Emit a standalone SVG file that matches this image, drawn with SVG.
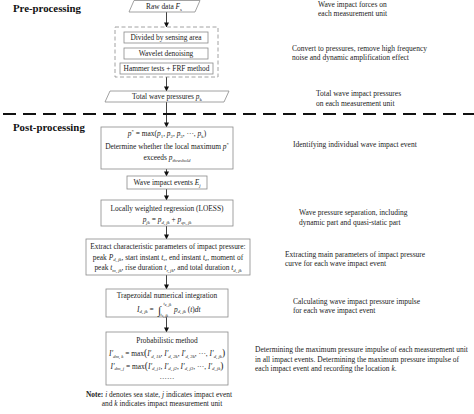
<svg xmlns="http://www.w3.org/2000/svg" width="474" height="414" viewBox="0 0 474 414">
<style>
.t{font-family:"Liberation Serif","Times New Roman",serif;font-size:7.4px;fill:#222;text-anchor:middle}
.l{font-family:"Liberation Serif","Times New Roman",serif;font-size:7.4px;fill:#222}
.r{font-family:"Liberation Serif","Times New Roman",serif;font-size:7.5px;fill:#222}
.h{font-family:"Liberation Serif","Times New Roman",serif;font-size:10.8px;font-weight:bold;fill:#111}
.box{fill:#fff;stroke:#8a8a8a;stroke-width:0.8}
.i{font-style:italic}
.s{font-size:4.8px}
.c{stroke:#111;stroke-width:0.8;fill:none;marker-end:url(#a)}
</style>
<defs>
<marker id="a" viewBox="0 0 6 6" refX="5.5" refY="3" markerWidth="5" markerHeight="5" orient="auto" markerUnits="userSpaceOnUse">
<path d="M0,0 L6,3 L0,6 z" fill="#111"/>
</marker>
</defs>
<rect width="474" height="414" fill="#fff"/>

<g id="headings">
<text class="h" x="13" y="12">Pre-processing</text>
<text class="h" x="13" y="131">Post-processing</text>
<line x1="3" y1="114" x2="474" y2="114" stroke="#111" stroke-width="2" stroke-dasharray="13 7"/>
</g>

<g id="connectors">
<line class="c" x1="166.5" y1="12" x2="166.5" y2="27"/>
<line class="c" x1="166.5" y1="77" x2="166.5" y2="91"/>
<line class="c" x1="166.5" y1="102" x2="166.5" y2="127"/>
<line class="c" x1="166.5" y1="169" x2="166.5" y2="176"/>
<line class="c" x1="166.5" y1="189" x2="166.5" y2="200"/>
<line class="c" x1="166.5" y1="226" x2="166.5" y2="239"/>
<line class="c" x1="166.5" y1="275" x2="166.5" y2="289"/>
<line class="c" x1="166.5" y1="317" x2="166.5" y2="332"/>
</g>

<g id="raw-data">
<polygon class="box" points="134,0.5 200,0.5 195,12 129,12"/>
<text class="t" x="164" y="9">Raw data  <tspan class="i">F</tspan><tspan class="s" dy="1.5">s</tspan></text>
</g>

<g id="preprocess">
<rect x="115" y="27" width="103" height="50" fill="none" stroke="#8a8a8a" stroke-width="0.8" stroke-dasharray="4 2.5"/>
<rect class="box" x="124" y="32" width="84" height="11"/>
<text class="t" x="166" y="40.3">Divided by sensing area</text>
<rect class="box" x="124" y="48" width="84" height="11"/>
<text class="t" x="166" y="56.3">Wavelet denoising</text>
<rect class="box" x="120" y="63" width="93" height="11"/>
<text class="t" x="166.5" y="71.3">Hammer tests + FRF method</text>
</g>

<g id="total-pressures">
<polygon class="box" points="110,91 229,91 224,102 105,102"/>
<text class="t" x="167" y="99">Total wave pressures  <tspan class="i">p</tspan><tspan class="s" dy="1.5">k</tspan></text>
</g>

<g id="event-detect">
<rect class="box" x="101" y="127" width="132" height="42"/>
<text class="t" x="167" y="136"><tspan class="i">p</tspan><tspan class="s" dy="-3">*</tspan><tspan dy="3"> = max(</tspan><tspan class="i">p</tspan><tspan class="s" dy="1.5">1</tspan><tspan dy="-1.5">, </tspan><tspan class="i">p</tspan><tspan class="s" dy="1.5">2</tspan><tspan dy="-1.5">, </tspan><tspan class="i">p</tspan><tspan class="s" dy="1.5">3</tspan><tspan dy="-1.5">, ···, </tspan><tspan class="i">p</tspan><tspan class="s" dy="1.5">k</tspan><tspan dy="-1.5">)</tspan></text>
<text class="t" x="167" y="149">Determine whether the local maximum <tspan class="i">p</tspan><tspan class="s" dy="-3">*</tspan></text>
<text class="t" x="167" y="160">exceeds <tspan class="i">p</tspan><tspan class="s i" dy="1.5">threshold</tspan></text>
</g>

<g id="impact-events">
<rect class="box" x="127" y="176" width="80" height="13"/>
<text class="t" x="167" y="185">Wave impact events  <tspan class="i">E</tspan><tspan class="s i" dy="1.5">j</tspan></text>
</g>

<g id="loess">
<rect class="box" x="101" y="200" width="132" height="26"/>
<text class="t" x="167" y="210.5">Locally weighted regression (LOESS)</text>
<text class="t" x="167" y="222"><tspan class="i">p</tspan><tspan class="s i" dy="1.5">jk</tspan><tspan dy="-1.5"> = </tspan><tspan class="i">p</tspan><tspan class="s i" dy="1.5">d, jk</tspan><tspan dy="-1.5"> + </tspan><tspan class="i">p</tspan><tspan class="s i" dy="1.5">qs, jk</tspan></text>
</g>

<g id="extract">
<rect class="box" x="86" y="239" width="164" height="36"/>
<text class="t" x="168" y="249">Extract characteristic parameters of impact pressure:</text>
<text class="t" x="168" y="259.5">peak <tspan class="i">P</tspan><tspan class="s i" dy="1.5">d, jk</tspan><tspan dy="-1.5">, start instant </tspan><tspan class="i">t</tspan><tspan class="s i" dy="1.5">s</tspan><tspan dy="-1.5">, end instant </tspan><tspan class="i">t</tspan><tspan class="s i" dy="1.5">e</tspan><tspan dy="-1.5">, moment of</tspan></text>
<text class="t" x="168" y="270">peak <tspan class="i">t</tspan><tspan class="s i" dy="1.5">m, jk</tspan><tspan dy="-1.5">, rise duration </tspan><tspan class="i">t</tspan><tspan class="s i" dy="1.5">r, jk</tspan><tspan dy="-1.5">, and total duration </tspan><tspan class="i">t</tspan><tspan class="s i" dy="1.5">d, jk</tspan></text>
</g>

<g id="trapezoidal">
<rect class="box" x="106" y="289" width="122" height="28"/>
<text class="t" x="167" y="298">Trapezoidal numerical integration</text>
<text class="l" x="137" y="311.5"><tspan class="i">I</tspan><tspan class="s i" dy="1.5">d, jk</tspan><tspan dy="-1.5"> = </tspan></text>
<text class="l" x="158" y="313.5" style="font-size:11px">∫</text>
<text class="l i" x="163.5" y="304.8" style="font-size:4px">t<tspan dy="0.8">e, jk</tspan></text>
<text class="l i" x="160.5" y="316.3" style="font-size:4px">t<tspan dy="0.6">s, jk</tspan></text>
<text class="l" x="174" y="311.5"><tspan class="i">p</tspan><tspan class="s i" dy="1.5">d, jk</tspan><tspan dy="-1.5"> (</tspan><tspan class="i">t</tspan>)<tspan class="i">dt</tspan></text>
</g>

<g id="probabilistic">
<rect class="box" x="106" y="332" width="122" height="53"/>
<text class="t" x="167" y="342.5">Probabilistic method</text>
<text class="t" x="167" y="356"><tspan class="i">I′</tspan><tspan class="s i" dy="1.5">dm, k</tspan><tspan dy="-1.5"> = max</tspan><tspan font-size="9.5">(</tspan><tspan class="i">I′</tspan><tspan class="s i" dy="1.5">d, 1k</tspan><tspan dy="-1.5">, </tspan><tspan class="i">I′</tspan><tspan class="s i" dy="1.5">d, 2k</tspan><tspan dy="-1.5">, </tspan><tspan class="i">I′</tspan><tspan class="s i" dy="1.5">d, 3k</tspan><tspan dy="-1.5">, ···, </tspan><tspan class="i">I′</tspan><tspan class="s i" dy="1.5">d, jk</tspan><tspan dy="-1.5" font-size="9.5">)</tspan></text>
<text class="t" x="167" y="368.5"><tspan class="i">I′</tspan><tspan class="s i" dy="1.5">dm, j</tspan><tspan dy="-1.5"> = max</tspan><tspan font-size="9.5">(</tspan><tspan class="i">I′</tspan><tspan class="s i" dy="1.5">d, j1</tspan><tspan dy="-1.5">, </tspan><tspan class="i">I′</tspan><tspan class="s i" dy="1.5">d, j2</tspan><tspan dy="-1.5">, </tspan><tspan class="i">I′</tspan><tspan class="s i" dy="1.5">d, j3</tspan><tspan dy="-1.5">, ···, </tspan><tspan class="i">I′</tspan><tspan class="s i" dy="1.5">d, jk</tspan><tspan dy="-1.5" font-size="9.5">)</tspan></text>
<text class="t" x="167" y="379">……</text>
</g>

<g id="note">
<text class="t" x="159" y="397"><tspan font-weight="bold">Note:</tspan> <tspan class="i">i</tspan> denotes sea state,  <tspan class="i">j</tspan> indicates impact event</text>
<text class="t" x="162" y="406">and <tspan class="i">k</tspan> indicates impact measurement unit</text>
</g>

<g id="annotations">
<text class="r" x="318" y="6.5">Wave impact forces on</text>
<text class="r" x="318" y="16">each measurement unit</text>
<text class="r" x="292" y="50.5">Convert to pressures, remove high frequency</text>
<text class="r" x="292" y="60">noise and dynamic amplification effect</text>
<text class="r" x="316" y="96">Total wave impact pressures</text>
<text class="r" x="316" y="105.5">on each measurement unit</text>
<text class="r" x="293" y="146.5">Identifying individual wave impact event</text>
<text class="r" x="299" y="214.5">Wave pressure separation, including</text>
<text class="r" x="299" y="224.5">dynamic part and quasi-static part</text>
<text class="r" x="285" y="256.5">Extracting main parameters of impact pressure</text>
<text class="r" x="285" y="266">curve for each wave impact event</text>
<text class="r" x="293" y="303.5">Calculating wave impact pressure impulse</text>
<text class="r" x="293" y="312.5">for each wave impact event</text>
<text class="r" x="255" y="352">Determining the maximum pressure impulse of each measurement unit</text>
<text class="r" x="255" y="361.5">in all impact events. Determining the  maximum pressure impulse of</text>
<text class="r" x="255" y="371">each impact event and recording the location <tspan class="i">k</tspan>.</text>
</g>
</svg>
